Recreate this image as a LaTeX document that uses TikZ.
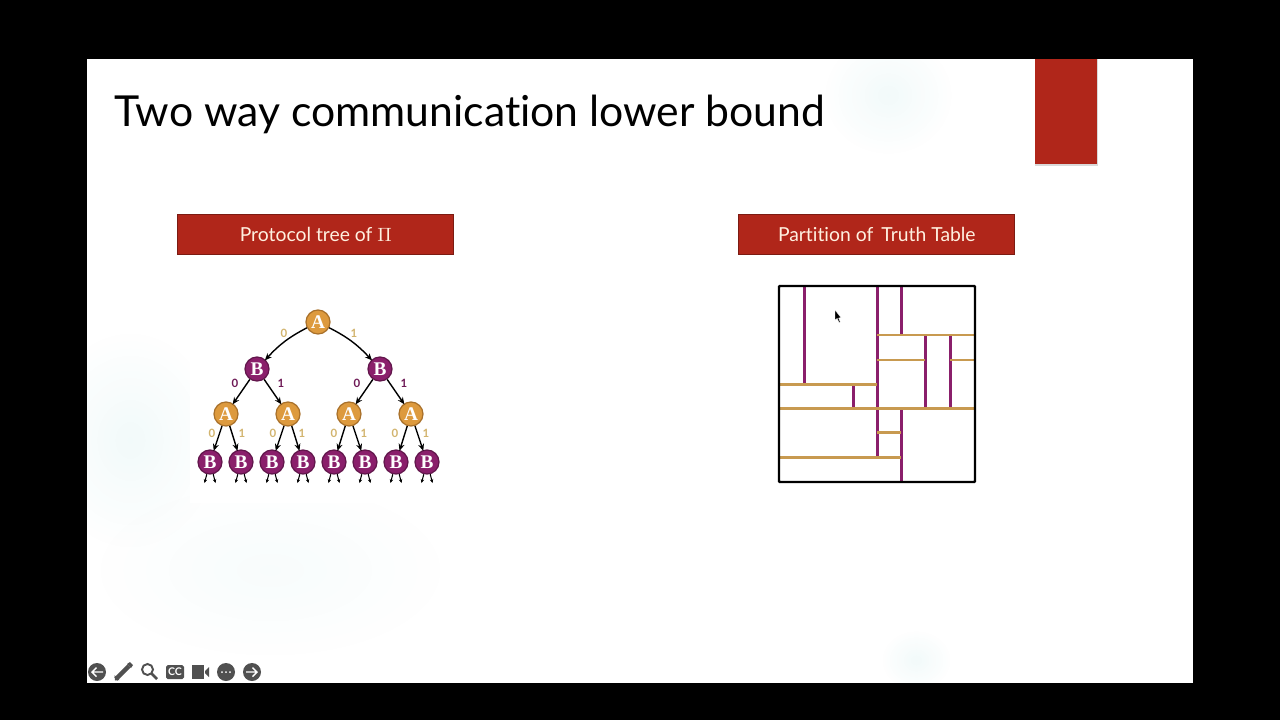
\documentclass[tikz,border=0pt]{standalone}
\usepackage{fontspec}
\setmainfont{Lato}[Ligatures=NoCommon]
\newfontfamily\letterfont{Liberation Serif}
\usepackage{tikz}
\usetikzlibrary{
    arrows.meta,
    fadings,
    positioning
}
\definecolor{slidered}{HTML}{B0261A}
\definecolor{alicefill}{HTML}{DD9A3E}
\definecolor{alicedraw}{HTML}{A8702A}
\definecolor{bobfill}{HTML}{8A1F6B}
\definecolor{cutorange}{HTML}{C89A50}
\definecolor{labelorange}{HTML}{D2B46E}
\definecolor{icongray}{HTML}{505050}
\tikzfading[name=softblob, inner color=transparent!0, outer color=transparent!100]
\tikzset{
    alice/.style={circle, draw=alicedraw, line width=0.7pt, fill=alicefill, text=white, inner sep=0pt, minimum size=24*0.02cm, font=\fontsize{11}{11}\selectfont\letterfont\bfseries},
    bob/.style={circle, draw=bobfill!70!black, line width=0.7pt, fill=bobfill, text=white, inner sep=0pt, minimum size=24*0.02cm, font=\fontsize{11}{11}\selectfont\letterfont\bfseries},
    bitA/.style={text=labelorange, inner sep=0pt, font=\fontsize{6.5}{6.5}\selectfont\bfseries},
    bitB/.style={text=bobfill!80!black, inner sep=0pt, font=\fontsize{6.5}{6.5}\selectfont\bfseries},
    redbox/.style={draw=slidered!70!black, line width=0.5pt, fill=slidered, text=white!88!orange, minimum width=276*0.02cm, minimum height=40*0.02cm, inner sep=0pt, font=\fontsize{11}{12}\selectfont},
    link/.style={-{Stealth[length=4pt,width=3.4pt]}, line width=0.8pt, shorten >=-0.5pt},
    stub/.style={-{Stealth[length=2.2pt,width=2pt]}, line width=0.6pt},
    cutA/.style={cutorange, line width=1.7pt},
    cutB/.style={bobfill, line width=1.7pt},
    blob/.style={fill=teal!50!cyan!70!gray, opacity=0.06, path fading=softblob, draw=none}
}

\begin{document}
\begin{tikzpicture}[x=0.02cm, y=-0.02cm]
    \fill[black] (0, 0) rectangle (1280, 720);
    \useasboundingbox (0, 0) rectangle (1280, 720);
    \fill[white] (87, 59) rectangle (1193, 683);

    % faint background of the slide
    \begin{scope}
        \clip (87, 59) rectangle (1193, 683);
        \fill[blob] (888, 95) ellipse (65 and 60);
        \fill[blob] (916, 660) ellipse (35 and 30);
        \fill[blob] (130, 440) ellipse (90 and 110);
        \fill[blob, opacity=0.03] (270, 570) ellipse (180 and 90);
    \end{scope}
    \fill[white] (190, 350) rectangle (770, 503);

    \fill[black!15] (1035, 59) rectangle (1097.6, 165.5);
    \fill[slidered] (1035, 59) rectangle (1097, 164);
    \node[anchor=west, inner sep=0pt, font=\fontsize{24.3}{30}\selectfont] (title) at (114, 114) {Two way communication lower bound};

    \node[redbox] (treehead) at (315.8, 234.9) {Protocol tree of $\Pi$};
    \node[redbox] (tablehead) at (876.8, 234.9) {Partition of\, Truth Table};

    % protocol tree
    \node[alice] (r) at (318, 322) {A};
    \node[bob] (b0) at (257, 369) {B};
    \node[bob] (b1) at (380, 369) {B};
    \node[alice] (a00) at (226, 414) {A};
    \node[alice] (a01) at (288, 414) {A};
    \node[alice] (a10) at (349, 414) {A};
    \node[alice] (a11) at (411, 414) {A};
    \foreach \i/\px in {1/210, 2/241, 3/272, 4/303, 5/334, 6/365, 7/396, 8/427} {
        \node[bob] (l\i) at (\px, 462) {B};
        \coordinate (l\i w) at (\px-5.5, 483);
        \coordinate (l\i e) at (\px+5.5, 483);
        \draw[stub] (l\i) -- (l\i w);
        \draw[stub] (l\i) -- (l\i e);
    }

    \draw
    (r) edge[link, bend right=10] (b0)
    (r) edge[link, bend left=10] (b1)
    (b0) edge[link] (a00)
    (b0) edge[link] (a01)
    (b1) edge[link] (a10)
    (b1) edge[link] (a11)
    (a00) edge[link] (l1)
    (a00) edge[link] (l2)
    (a01) edge[link] (l3)
    (a01) edge[link] (l4)
    (a10) edge[link] (l5)
    (a10) edge[link] (l6)
    (a11) edge[link] (l7)
    (a11) edge[link] (l8);

    \node[bitA] (r0) at (284, 333) {0};
    \node[bitA] (r1) at (354, 333) {1};
    \node[bitB] (b00) at (235, 383) {0};
    \node[bitB] (b01) at (281, 383) {1};
    \node[bitB] (b10) at (357, 383) {0};
    \node[bitB] (b11) at (404, 383) {1};
    \foreach \i/\px/\bit in {1/212/0, 2/242/1, 3/273/0, 4/302/1, 5/334/0, 6/364/1, 7/395/0, 8/426/1} {
        \node[bitA] (c\i) at (\px, 433) {\bit};
    }

    % partition of the table
    \draw[cutB] (804, 286) -- (804, 383);
    \draw[cutB] (877, 286) -- (877, 457);
    \draw[cutB] (901, 286) -- (901, 335);
    \draw[cutB] (925, 335) -- (925, 408);
    \draw[cutB] (950, 335) -- (950, 408);
    \draw[cutB] (853, 384) -- (853, 408);
    \draw[cutB] (901, 408) -- (901, 482);
    \draw[cutA] (877, 335) -- (975, 335);
    \draw[cutA] (877, 360) -- (925, 360);
    \draw[cutA] (950, 360) -- (975, 360);
    \draw[cutA] (779, 384) -- (877, 384);
    \draw[cutA] (779, 408) -- (975, 408);
    \draw[cutA] (877, 432) -- (901, 432);
    \draw[cutA] (779, 457) -- (901, 457);
    \draw[black, line width=1.4pt, rounded corners=0.5pt] (779, 286) rectangle (975, 482);

    % mouse pointer
    \fill[black, draw=white, line width=0.2pt] (835, 310) -- (835, 320) -- (837.2, 318.4) -- (839, 322.5) -- (840.2, 322) -- (838.6, 318) -- (841, 317.6) -- cycle;

    % player controls
    \fill[icongray] (97, 672) circle (9);
    \draw[white, line width=0.8pt] (103, 672) -- (92, 672) (96.5, 667.5) -- (92, 672) -- (96.5, 676.5);
    \draw[icongray, line width=2.6pt] (116, 679) -- (129, 666);
    \fill[icongray] (115, 680.5) -- (114.5, 675) -- (119.5, 680) -- cycle;
    \fill[icongray] (127, 664) -- (130, 662) -- (133, 665) -- (131, 668) -- cycle;
    \draw[icongray, line width=1.1pt] (147.5, 669.5) circle (5.5);
    \draw[icongray, line width=1.6pt] (151.5, 673.5) -- (157, 679);
    \node[fill=icongray, text=white, rounded corners=1pt, minimum width=18*0.02cm, minimum height=14*0.02cm, inner sep=0pt, font=\fontsize{6}{6}\selectfont\bfseries] (cc) at (175, 672) {CC};
    \fill[icongray] (192, 665) rectangle (204, 679);
    \fill[icongray] (205, 671) -- (209, 667) -- (209, 677) -- (205, 673) -- cycle;
    \fill[icongray] (226, 672) circle (9);
    \fill[white] (222, 672) circle (1) (226, 672) circle (1) (230, 672) circle (1);
    \fill[icongray] (252, 672) circle (9);
    \draw[white, line width=0.8pt] (246, 672) -- (257, 672) (252.5, 667.5) -- (257, 672) -- (252.5, 676.5);
\end{tikzpicture}
\end{document}
